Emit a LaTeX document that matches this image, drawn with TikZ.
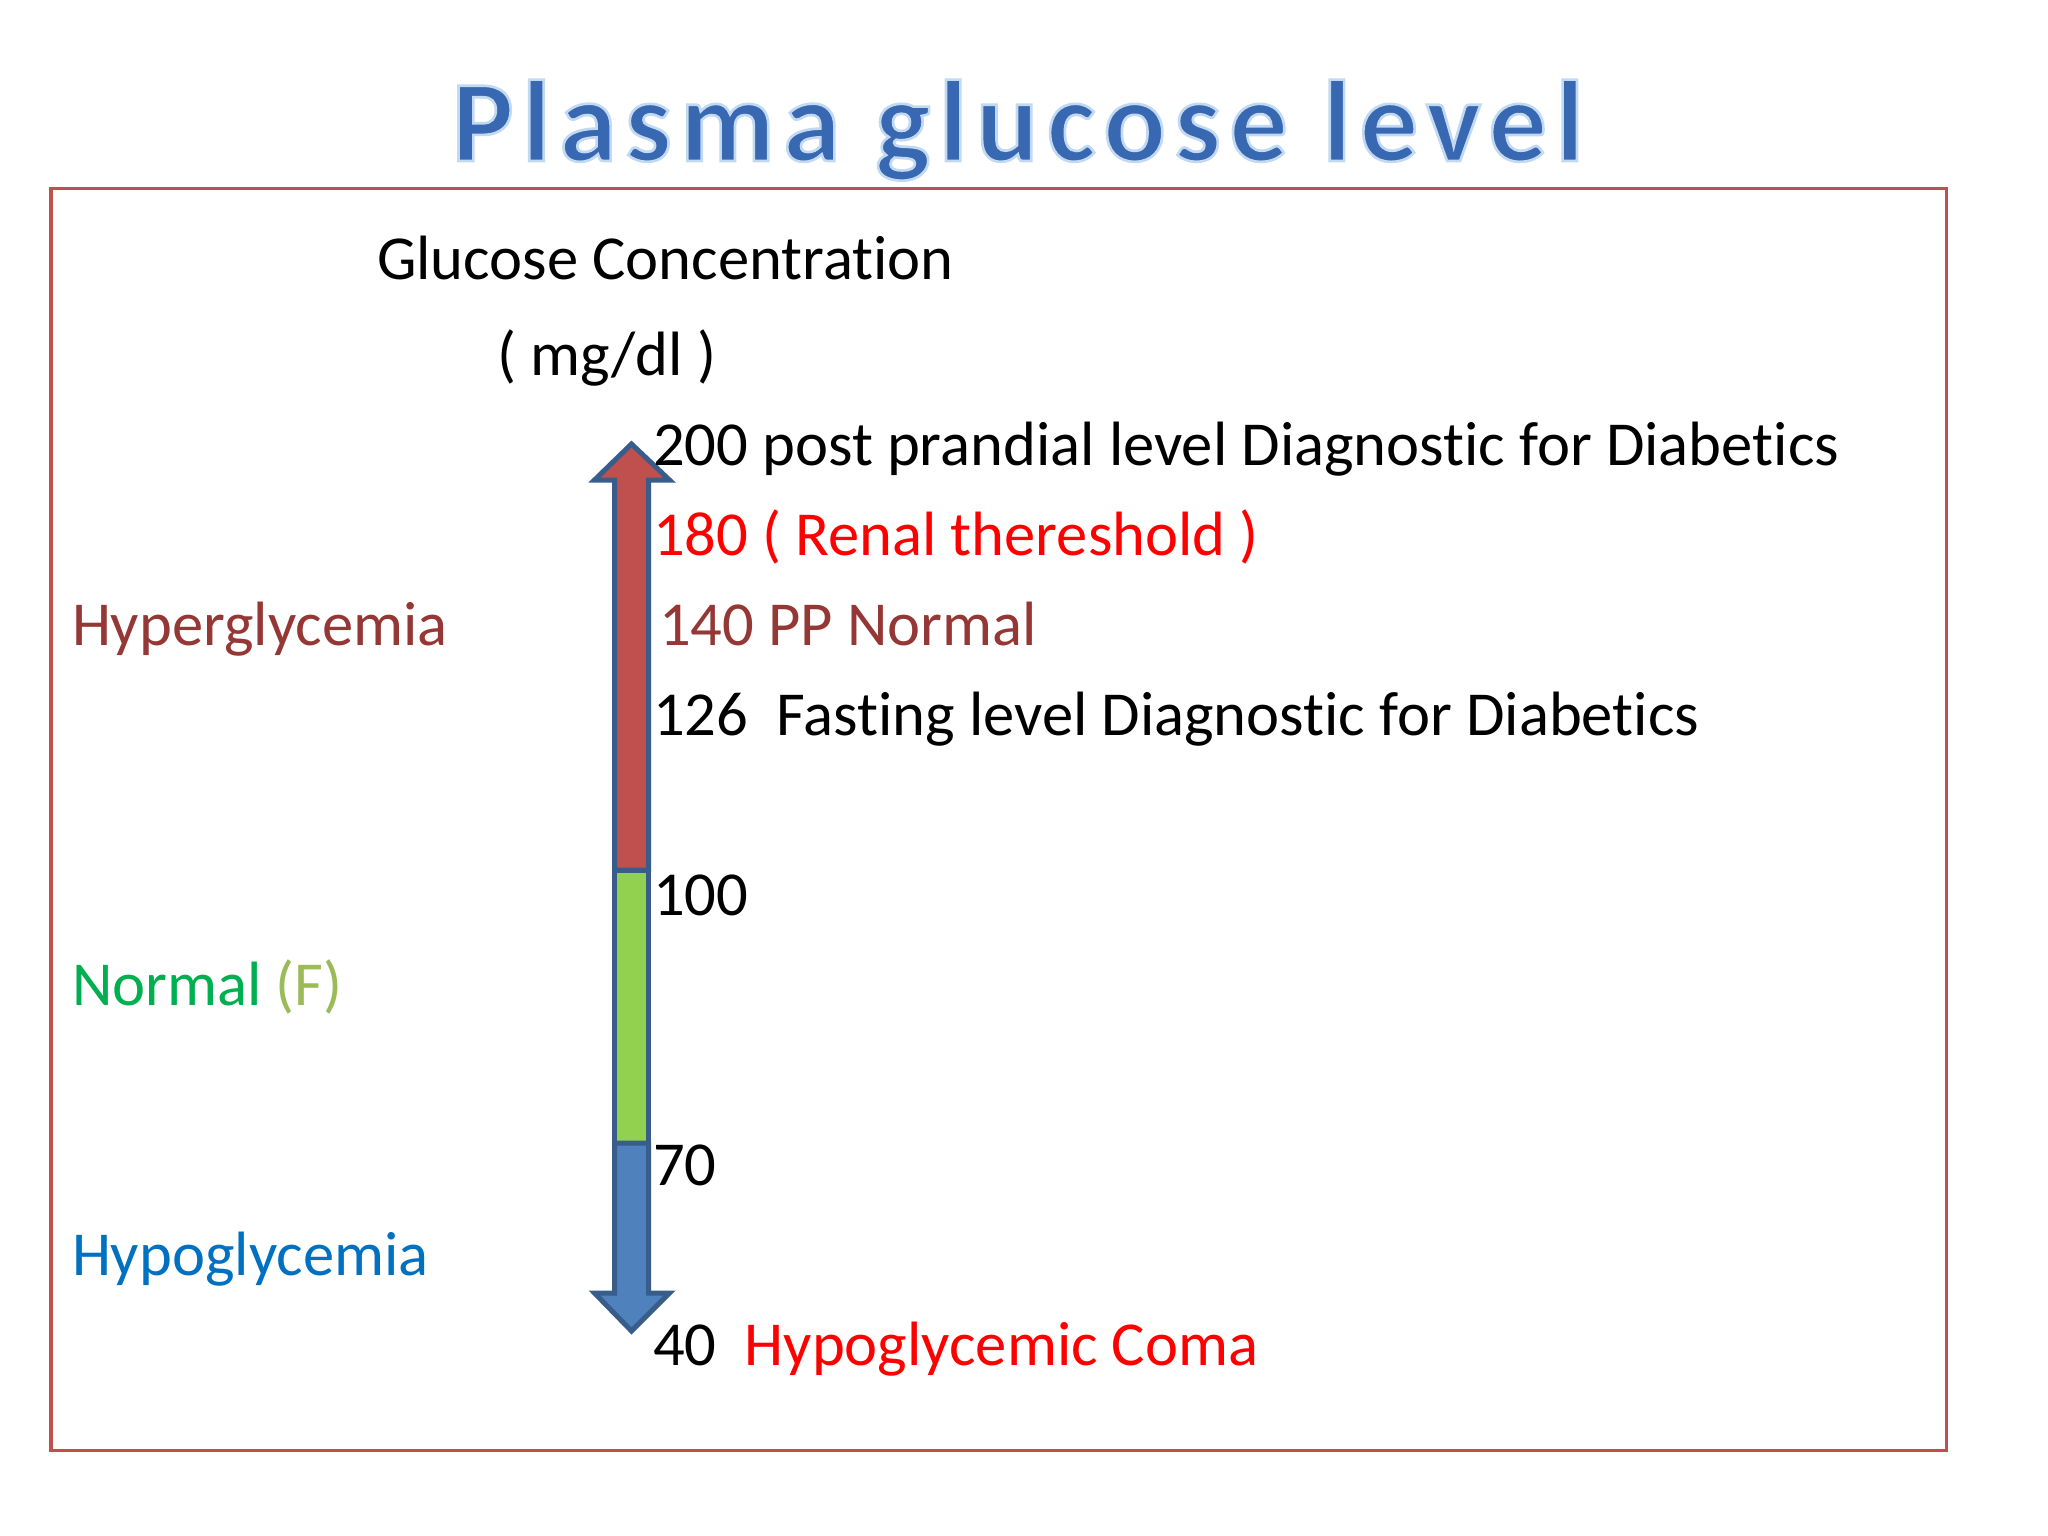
\documentclass[tikz,border=0pt]{standalone}
\usepackage{fontspec}
\setmainfont{Carlito}[Ligatures=NoCommon]
\newfontfamily\titlefont{Carlito}[LetterSpace=7.4,Ligatures=NoCommon]
\definecolor{boxred}{HTML}{C0504D}
\definecolor{hyper}{HTML}{953735}
\definecolor{normg}{HTML}{00B050}
\definecolor{oliveg}{HTML}{9BBB59}
\definecolor{hypob}{HTML}{0070C0}
\definecolor{redfill}{HTML}{C0504D}
\definecolor{greenfill}{HTML}{92D050}
\definecolor{bluefill}{HTML}{4F81BD}
\definecolor{arrowedge}{HTML}{385D8A}
\definecolor{titleblue}{HTML}{3868B2}
\newcommand\bodysize{\fontsize{17.8pt}{20pt}\selectfont}
\newcommand\glowon{\special{pdf:literal direct 2 Tr 0.76 0.85 0.95 RG 0.75 w}}
\newcommand\glowoff{\special{pdf:literal direct 0 Tr}}
\begin{document}
\begin{tikzpicture}[x=0.01cm,y=-0.01cm,
  lbl/.style={anchor=base west,inner sep=0pt,outer sep=0pt,font=\bodysize},
  ttl/.style={anchor=base west,inner sep=0pt,outer sep=0pt,font=\titlefont\bfseries\fontsize{33pt}{36pt}\selectfont},
  seg/.style={draw=arrowedge,line width=0.05cm,line join=miter}]
\useasboundingbox (0,0) rectangle (2048,1536);
\fill[white] (0,0) rectangle (2048,1536);
% title
\node[ttl,text=titleblue] (title) at (452,161) {\glowon Plasma glucose level\glowoff};
% frame
\draw[boxred,line width=0.03cm] (51,188) rectangle (1946,1450);
% arrow segments
\draw[seg,fill=redfill] (614.5,870) -- (614.5,480) -- (594.5,480) -- (631.5,444) -- (669.5,480) -- (648.5,480) -- (648.5,870) -- cycle;
\draw[seg,fill=greenfill] (614.5,870) rectangle (648.5,1143);
\draw[seg,fill=bluefill] (614.5,1143) -- (614.5,1293) -- (594.5,1293) -- (631.5,1331) -- (669.5,1293) -- (648.5,1293) -- (648.5,1143) -- cycle;
% texts
\node[lbl] (gc) at (377,279) {Glucose Concentration};
\node[lbl] (unit) at (497,375) {( mg/dl )};
\node[lbl] (v200) at (653,465) {200 post prandial level Diagnostic for Diabetics};
\node[lbl,text=red] (v180) at (653,555) {180 ( Renal thereshold )};
\node[lbl,text=hyper] (v140) at (659,645) {140 PP Normal};
\node[lbl] (v126) at (653,735) {126\ \ Fasting level Diagnostic for Diabetics};
\node[lbl] (v100) at (653,915) {100};
\node[lbl] (v70) at (653,1185) {70};
\node[lbl] (v40) at (653,1365) {40\ \ \textcolor{red}{Hypoglycemic Coma}};
\node[lbl,text=hyper] (hyperlbl) at (72,645) {Hyperglycemia};
\node[lbl] (normlbl) at (72,1005) {\textcolor{normg}{Normal} \textcolor{oliveg}{(F)}};
\node[lbl,text=hypob] (hypolbl) at (72,1275) {Hypoglycemia};
\end{tikzpicture}
\end{document}
